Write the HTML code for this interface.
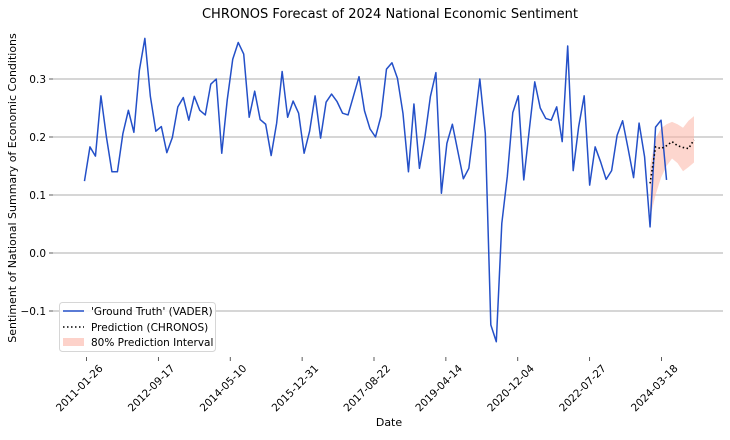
<!DOCTYPE html>
<html><head><meta charset="utf-8"><style>
body{margin:0;background:#fff}
svg{font-family:"DejaVu Sans","Liberation Sans",sans-serif}
</style></head><body>
<svg id="c" width="730" height="435" viewBox="0 0 730 435"></svg>
<script>
const truth=[0.124,0.183,0.167,0.271,0.20,0.14,0.14,0.206,0.246,0.208,0.315,0.37,0.27,0.21,0.218,0.173,0.199,0.252,0.268,0.229,0.27,0.246,0.238,0.291,0.30,0.172,0.264,0.334,0.363,0.343,0.234,0.279,0.23,0.222,0.168,0.224,0.313,0.234,0.262,0.241,0.172,0.21,
0.271,0.198,0.26,0.274,0.261,0.241,0.238,0.271,0.304,0.245,0.214,0.20,0.236,0.317,0.328,0.301,0.241,0.14,0.257,0.146,0.20,0.27,0.311,0.103,0.189,0.222,0.175,0.128,0.146,0.221,0.30,0.206,-0.124,-0.153,0.051,0.132,0.242,0.271,0.126,0.212,
0.295,0.25,0.232,0.229,0.252,0.192,0.357,0.142,0.218,0.271,0.117,0.183,0.157,0.127,0.142,0.203,0.228,0.18,0.13,0.224,0.166,0.045,0.217,0.229,0.126];
const predStart=103;
const pred=[0.12,0.183,0.18,0.185,0.192,0.185,0.182,0.18,0.195];
const upper=[0.15,0.197,0.215,0.222,0.226,0.222,0.216,0.228,0.236];
const lower=[0.06,0.10,0.13,0.15,0.163,0.155,0.141,0.148,0.156];
const yTicks=[-0.1,0.0,0.1,0.2,0.3];
const xTickLabels=["2011-01-26","2012-09-17","2014-05-10","2015-12-31","2017-08-22","2019-04-14","2020-12-04","2022-07-27","2024-03-18"];
const startOffsetDays=-17, stepDays=45.84;

const svg=document.getElementById('c');const NS='http://www.w3.org/2000/svg';
function mk(t,a,p){const e=document.createElementNS(NS,t);for(const k in a)e.setAttribute(k,a[k]);(p||svg).appendChild(e);return e;}
const t0=Date.UTC(2011,0,26);
function dayOf(s){const [y,m,d]=s.split('-').map(Number);return (Date.UTC(y,m-1,d)-t0)/864e5;}
const X=d=>86.5+d*71.875/600;
const Y=v=>253-580*v;
const xi=i=>X(startOffsetDays+i*stepDays);

let e;
e=mk('text',{x:390,y:18,'text-anchor':'middle','font-size':13,fill:'#000'});e.textContent='CHRONOS Forecast of 2024 National Economic Sentiment';


e=mk('text',{transform:'translate(16,188) rotate(-90)','text-anchor':'middle','font-size':11});e.textContent='Sentiment of National Summary of Economic Conditions';


e=mk('text',{x:389,y:426,'text-anchor':'middle','font-size':11});e.textContent='Date';


yTicks.forEach(v=>{
 e=mk('line',{x1:53,x2:723,y1:Y(v),y2:Y(v),stroke:'#bdbdbd','stroke-width':1.2});
 
 
 mk('line',{x1:49,x2:53,y1:Y(v),y2:Y(v),stroke:'#333','stroke-width':0.8});
 e=mk('text',{x:46,y:Y(v)+4,'text-anchor':'end','font-size':10.5});e.textContent=v.toFixed(1).replace('-','−');
 
 
});
xTickLabels.forEach(s=>{
 const x=X(dayOf(s));
 mk('line',{x1:x,x2:x,y1:357,y2:361,stroke:'#333','stroke-width':0.8});
 e=mk('text',{transform:`translate(${x+17},${369}) rotate(-45)`,'text-anchor':'end','font-size':10.5});e.textContent=s;
 
 
});
let bp=upper.map((v,k)=>`${xi(predStart+k)},${Y(v)}`).concat(lower.map((v,k)=>`${xi(predStart+k)},${Y(v)}`).reverse());
e=mk('polygon',{points:bp.join(' '),fill:'#fbb4a6','fill-opacity':0.55});


e=mk('polyline',{points:truth.map((v,i)=>`${xi(i)},${Y(v)}`).join(' '),fill:'none',stroke:'#2450c8','stroke-width':1.5,'stroke-linejoin':'round'});


e=mk('polyline',{points:pred.map((v,k)=>`${xi(predStart+k)},${Y(v)}`).join(' '),fill:'none',stroke:'#000','stroke-width':1.6,'stroke-dasharray':'1.5 2.5'});


const lg=mk('g',{});


mk('rect',{x:59.5,y:302.5,width:156,height:49,rx:3,fill:'#fff','fill-opacity':0.85,stroke:'#d6d6d6'},lg);
mk('line',{x1:63,x2:84,y1:311,y2:311,stroke:'#2450c8','stroke-width':1.5},lg);
mk('line',{x1:63,x2:84,y1:327,y2:327,stroke:'#000','stroke-width':1.5,'stroke-dasharray':'1.5 2.5'},lg);
mk('rect',{x:63,y:338,width:21,height:8,fill:'#fbb4a6','fill-opacity':0.6},lg);
[["'Ground Truth' (VADER)",315],["Prediction (CHRONOS)",331],["80% Prediction Interval",346]].forEach(([t,y])=>{
 e=mk('text',{x:91,y:y,'font-size':10.5},lg);e.textContent=t;
 
 
});
</script>
</body></html>
